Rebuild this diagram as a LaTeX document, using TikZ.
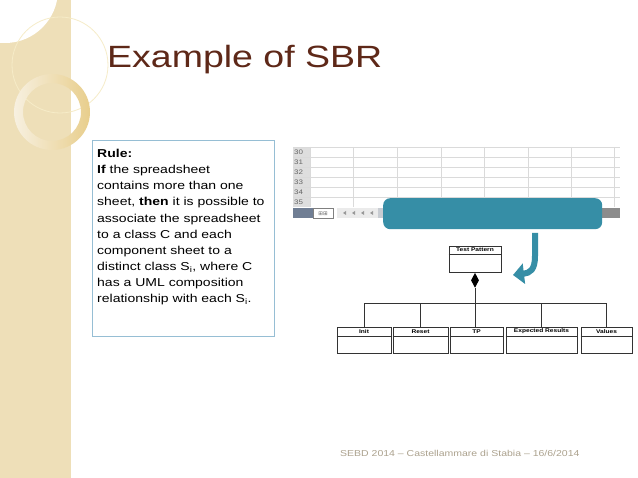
\documentclass[tikz,border=0pt]{standalone}
\usepackage{fontspec}
\setmainfont{Liberation Sans}
\newfontfamily\dejavu{DejaVu Sans}
\usetikzlibrary{arrows.meta,shapes.geometric,calc}
\definecolor{strip}{RGB}{238,223,184}
\definecolor{ringL}{RGB}{247,240,224}
\definecolor{ringR}{RGB}{232,206,140}
\definecolor{thinc}{RGB}{246,236,200}
\definecolor{titlec}{RGB}{94,40,24}
\definecolor{ruleb}{RGB}{150,190,212}
\definecolor{teal}{RGB}{54,142,166}
\definecolor{footc}{RGB}{172,162,142}
\definecolor{gridc}{RGB}{218,218,218}
\definecolor{hdrc}{RGB}{222,222,222}
\definecolor{tabsel}{RGB}{112,126,148}
\definecolor{barc}{RGB}{200,204,210}
\newcommand{\squash}[1]{\scalebox{1}[0.82]{#1}}
\begin{document}
\begin{tikzpicture}[x=1pt,y=-1pt,
  cls/.style={draw=black!80, line width=0.6pt, fill=white, minimum height=26, inner sep=0, anchor=north},
  clsname/.style={font=\fontsize{6.6}{8}\selectfont\bfseries, inner sep=0, anchor=center},
  conn/.style={draw=black!80, line width=0.6pt},
  rowlab/.style={font=\fontsize{8}{8}\selectfont, text=black!60, inner sep=0, anchor=west}
]
\useasboundingbox (0,0) rectangle (638,478);
\fill[white] (0,0) rectangle (638,478);
\fill[strip] (0,0) rectangle (71,478);
\begin{scope}
  \clip (0,0) rectangle (638,478);
  \fill[white] (5,-10) circle (53);
  \draw[thinc, line width=0.8pt] (60,65) circle (48);
  \path[even odd rule, left color=ringL, right color=ringR] (52,112) circle (38) (52,112) circle (29);
\end{scope}

% title
\node[anchor=base west, inner sep=0, text=titlec, font=\fontsize{37.5}{40}\selectfont] (title) at (107,67.5) {\squash{Example of SBR}};

% rule box
\node[draw=ruleb, line width=0.8pt, minimum width=182, minimum height=196, anchor=north west, inner sep=0] (rule) at (92,140) {};
\node[anchor=north west, inner sep=0, font=\fontsize{14}{19.75}\selectfont] (ruletext) at (97,145.7) {\squash{\begin{tabular}{@{}l@{}}
\textbf{Rule:}\\
\textbf{If} the spreadsheet\\
contains more than one\\
sheet, \textbf{then} it is possible to\\
associate the spreadsheet\\
to a class C and each\\
component sheet to a\\
distinct class S\textsubscript{i}, where C\\
has a UML composition\\
relationship with each S\textsubscript{i}.
\end{tabular}}};

% spreadsheet fragment
\fill[hdrc] (293,147) rectangle (310,207);
\foreach \yy in {147,157,...,207} \draw[gridc, line width=0.5pt] (293,\yy) -- (620,\yy);
\foreach \xx in {310,353,397,441,484,528,571,614} \draw[gridc, line width=0.5pt] (\xx,147) -- (\xx,207);
\foreach \n [count=\k from 0] in {30,31,32,33,34,35}
  \node[rowlab] (r\n) at (294,152+10*\k) {\squash{\n}};
\fill[white] (293,207) rectangle (620,219);
\fill[tabsel] (293,208) rectangle (313,218);
\draw[black!50, line width=0.4pt] (313,208) rectangle (333,218);
\node[font=\dejavu\fontsize{5.5}{6}\selectfont, text=black!60, inner sep=0] (tabtxt) at (323,213.5) {⊞⊞};
\fill[black!8] (337,208) rectangle (378,218);
\foreach \ax in {343,352,361,370} \fill[black!40] (\ax,213) -- ++(3,-2) -- ++(0,4) -- cycle;
\fill[barc] (378,208) rectangle (600,218);
\fill[black!45] (598,208) rectangle (620,218);

% teal callout
\node[fill=teal, rounded corners=7pt, minimum width=219, minimum height=31, anchor=north west, inner sep=0] (callout) at (383,198) {};
\coordinate (astart) at (535,233);
\coordinate (aend) at (513,275);
\draw[teal, line width=6pt, -{Triangle[length=11pt,width=20pt]}] (astart) -- (535,256) .. controls (535,270) and (530,273) .. (aend);

% UML classes
\node[cls, minimum width=52] (tpat) at (475,246) {};
\draw[conn] ($(tpat.north west)+(0,8)$) -- ($(tpat.north east)+(0,8)$);
\node[clsname] (tpatname) at ($(tpat.north)+(0,4)$) {\squash{Test Pattern}};

\node[diamond, fill=black, aspect=0.5, minimum width=8, minimum height=15, inner sep=0, anchor=north] (dia) at (tpat.south) {};

\foreach \nm/\cx/\w/\lab in {init/364/54/Init, reset/420.5/55/Reset, tp/476.5/53/TP, exp/541.5/71/Expected Results, val/606.5/51/Values} {
  \node[cls, minimum width=\w] (\nm) at (\cx,327) {};
  \draw[conn] ($(\nm.north west)+(0,9)$) -- ($(\nm.north east)+(0,9)$);
  \node[clsname] (\nm name) at ($(\nm.north)+(0,4.5)$) {\squash{\lab}};
}
\coordinate (bar) at (475,303);
\draw[conn] (dia.south) -- (bar);
\draw[conn] (init.north) |- (bar);
\draw[conn] (reset.north) |- (bar);
\draw[conn] (bar |- tp.north) -- (bar);
\draw[conn] (exp.north) |- (bar);
\draw[conn] (val.north) |- (bar);

% footer
\node[anchor=base west, inner sep=0, text=footc, font=\fontsize{10.5}{12}\selectfont] (footer) at (340,457) {\squash{SEBD 2014 – Castellammare di Stabia – 16/6/2014}};
\end{tikzpicture}
\end{document}
